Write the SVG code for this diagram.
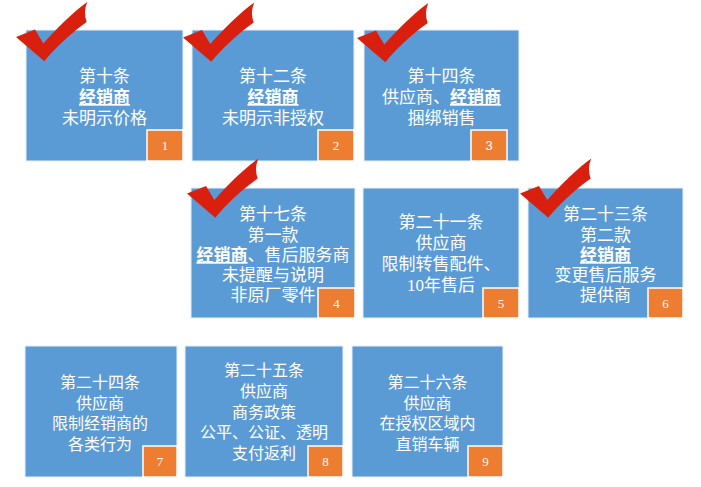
<svg xmlns="http://www.w3.org/2000/svg" width="701" height="487" viewBox="0 0 701 487">
<style>
.box{fill:#5B9BD5;stroke:#E8F0F8;stroke-width:1}
.tag{fill:#ED7D31;stroke:#FFFFFF;stroke-width:1.5}
.t{font-family:"Noto Sans CJK SC","Noto Sans",sans-serif;fill:#FFFFFF;text-anchor:middle}
.r12{font-size:17px}
.r3{font-size:16px}
.k{font-weight:bold;text-decoration:underline}
.n{font-family:"Liberation Serif",serif;font-size:13px;fill:#FFFFFF;text-anchor:middle}
.ns{font-family:"Liberation Sans",sans-serif;font-size:13px;fill:#FFFFFF;text-anchor:middle}
.chk{fill:#D9200E}
</style>
<defs>
<path id="check" class="chk" d="M0,0 L19,-7.4 L27.3,6.6 C40,-8 56,-24 71.3,-35 Q67,-25 70.7,-15 C54,-3 39,11 28.3,24.3 Z"/>
</defs>
<rect width="701" height="487" fill="#FFFFFF"/>
<g id="connectors"></g>
<g id="node1">
<rect class="box" x="26" y="30" width="157" height="131"/>
<text class="t r12" x="104.5" y="82">第十条</text>
<text class="t r12" x="104.5" y="103"><tspan class="k">经销商</tspan></text>
<text class="t r12" x="104.5" y="123.5">未明示价格</text>
<rect class="tag" x="147" y="130" width="36" height="31"/>
<text class="n" x="165" y="150">1</text>
</g>
<g id="node2">
<rect class="box" x="192" y="30" width="162" height="131"/>
<text class="t r12" x="273" y="82">第十二条</text>
<text class="t r12" x="273" y="103"><tspan class="k">经销商</tspan></text>
<text class="t r12" x="273" y="123.5">未明示非授权</text>
<rect class="tag" x="318" y="130" width="36" height="31"/>
<text class="n" x="336" y="150">2</text>
</g>
<g id="node3">
<rect class="box" x="364" y="30" width="155" height="131"/>
<text class="t r12" x="441.5" y="82">第十四条</text>
<text class="t r12" x="441.5" y="103">供应商、<tspan class="k">经销商</tspan></text>
<text class="t r12" x="441.5" y="123.5">捆绑销售</text>
<rect class="tag" x="471" y="130" width="36" height="31"/>
<text class="ns" x="489" y="150">3</text>
</g>
<g id="node4">
<rect class="box" x="191" y="188" width="164" height="130"/>
<text class="t r12" x="273" y="220">第十七条</text>
<text class="t r12" x="273" y="240.5">第一款</text>
<text class="t r12" x="273" y="261"><tspan class="k">经销商</tspan>、售后服务商</text>
<text class="t r12" x="273" y="281">未提醒与说明</text>
<text class="t r12" x="273" y="301">非原厂零件</text>
<rect class="tag" x="318" y="288" width="37" height="30"/>
<text class="n" x="336.5" y="307.5">4</text>
</g>
<g id="node5">
<rect class="box" x="363" y="188" width="156" height="130"/>
<text class="t r12" x="441" y="228">第二十一条</text>
<text class="t r12" x="441" y="249">供应商</text>
<text class="t r12" x="441" y="269.5">限制转售配件、</text>
<text class="t r12" x="441" y="290.5"><tspan font-family="Liberation Serif, serif">10</tspan>年售后</text>
<rect class="tag" x="483" y="288" width="36" height="30"/>
<text class="n" x="501" y="307.5">5</text>
</g>
<g id="node6">
<rect class="box" x="528" y="188" width="155" height="130"/>
<text class="t r12" x="605.5" y="220">第二十三条</text>
<text class="t r12" x="605.5" y="240.5">第二款</text>
<text class="t r12" x="605.5" y="261"><tspan class="k">经销商</tspan></text>
<text class="t r12" x="605.5" y="281">变更售后服务</text>
<text class="t r12" x="605.5" y="301">提供商</text>
<rect class="tag" x="648" y="288" width="35" height="30"/>
<text class="n" x="665.5" y="307.5">6</text>
</g>
<g id="node7">
<rect class="box" x="25" y="346" width="152" height="131"/>
<text class="t r3" x="100" y="387.5">第二十四条</text>
<text class="t r3" x="100" y="408.5">供应商</text>
<text class="t r3" x="100" y="428.5">限制经销商的</text>
<text class="t r3" x="100" y="449.5">各类行为</text>
<rect class="tag" x="143" y="446" width="34" height="31"/>
<text class="n" x="160" y="466">7</text>
</g>
<g id="node8">
<rect class="box" x="185" y="346" width="158" height="131"/>
<text class="t r3" x="264" y="376">第二十五条</text>
<text class="t r3" x="264" y="397">供应商</text>
<text class="t r3" x="264" y="417.5">商务政策</text>
<text class="t r3" x="264" y="438">公平、公证、透明</text>
<text class="t r3" x="264" y="458.5">支付返利</text>
<rect class="tag" x="308" y="446" width="35" height="31"/>
<text class="n" x="325.5" y="466">8</text>
</g>
<g id="node9">
<rect class="box" x="352" y="346" width="151" height="131"/>
<text class="t r3" x="427.5" y="387.5">第二十六条</text>
<text class="t r3" x="427.5" y="408.5">供应商</text>
<text class="t r3" x="427.5" y="429">在授权区域内</text>
<text class="t r3" x="427.5" y="449.5">直销车辆</text>
<rect class="tag" x="468" y="446" width="35" height="31"/>
<text class="n" x="485.5" y="466">9</text>
</g>
<g id="checks">
<use href="#check" x="16" y="37"/>
<use href="#check" x="183" y="37.5"/>
<use href="#check" x="357" y="38"/>
<use href="#check" x="187" y="193.5"/>
<use href="#check" x="520" y="193.5"/>
</g>
</svg>
